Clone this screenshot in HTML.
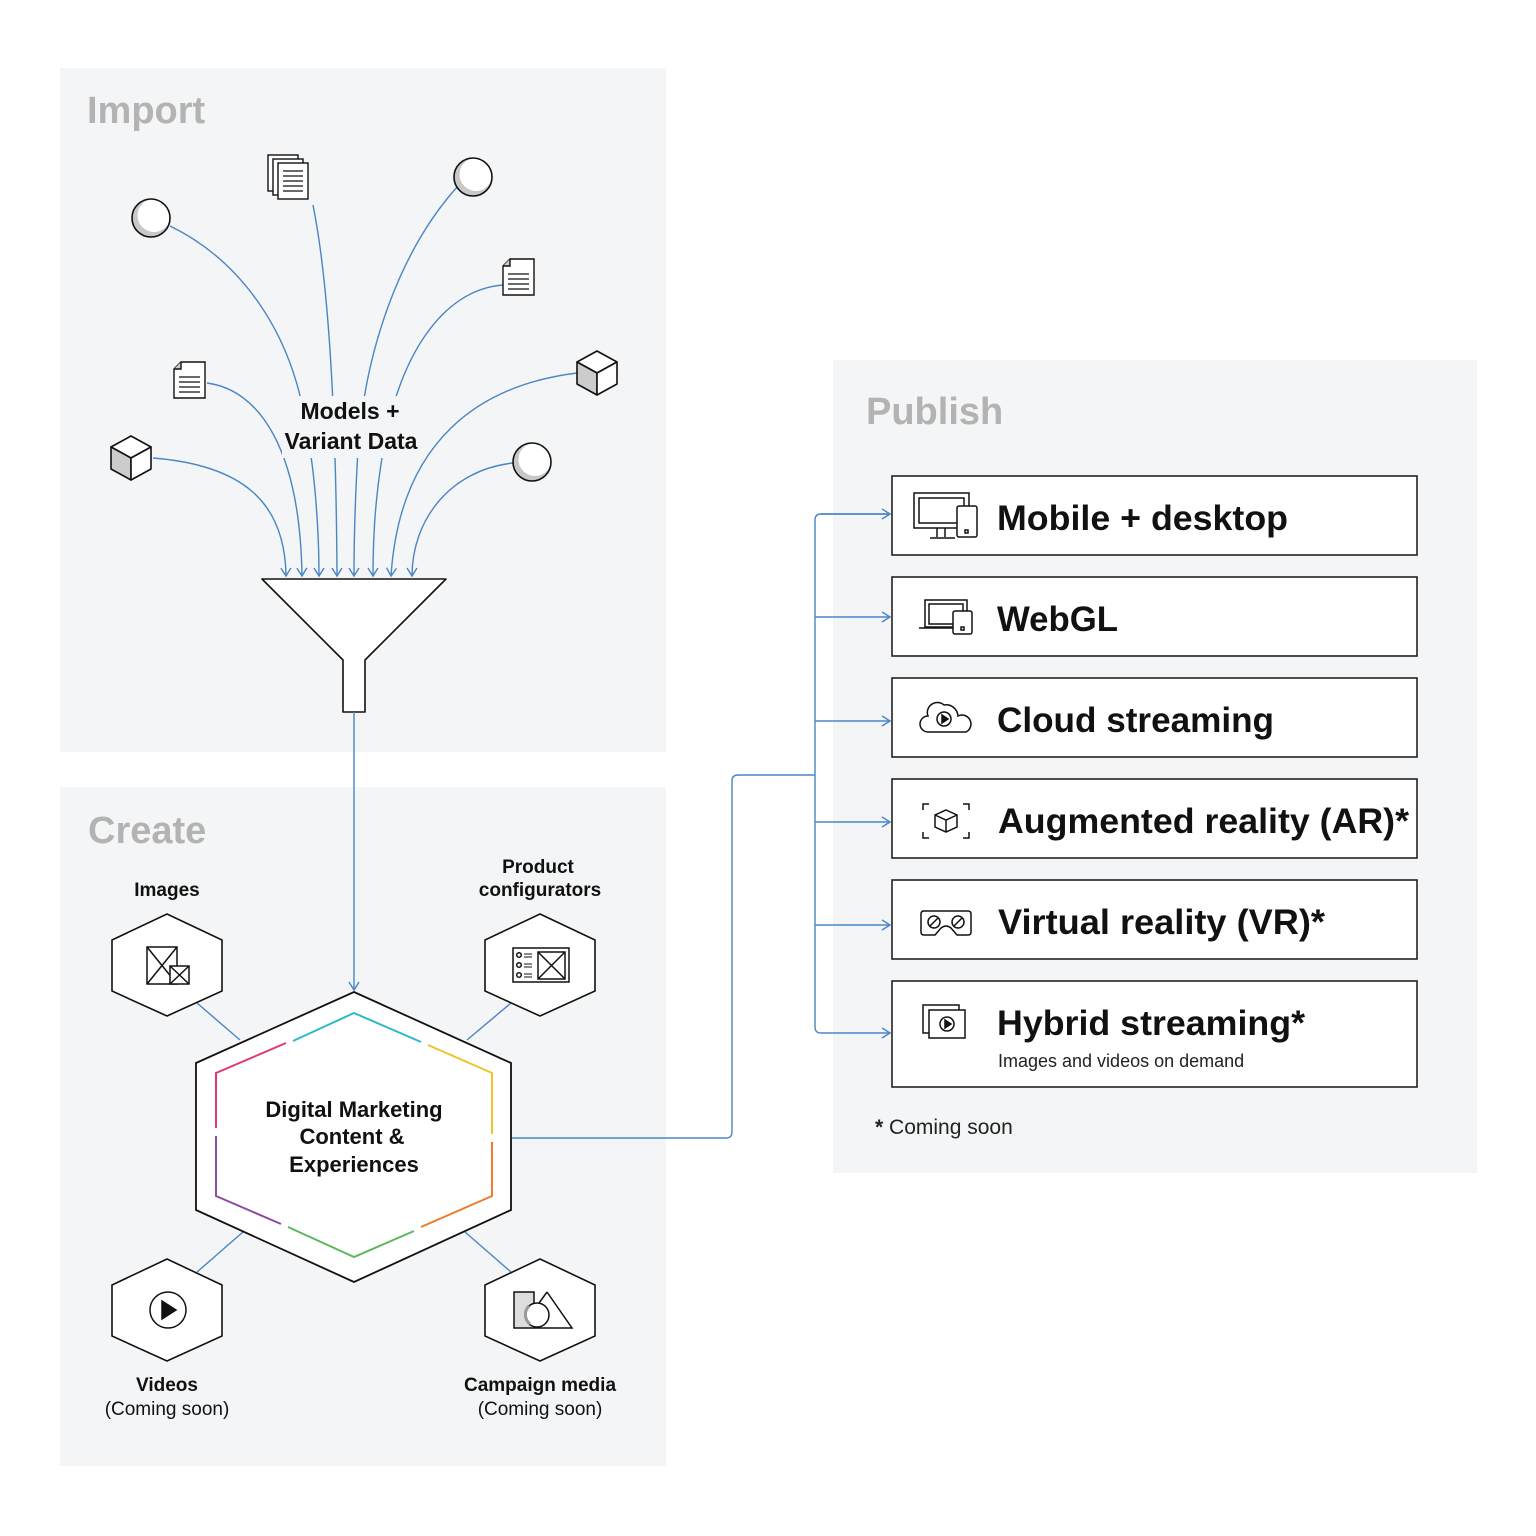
<!DOCTYPE html>
<html><head><meta charset="utf-8"><style>
html,body{margin:0;padding:0;background:#fff;}
svg{display:block;}
text{font-family:"Liberation Sans",sans-serif;}
</style></head><body>
<svg width="1536" height="1536" viewBox="0 0 1536 1536" xmlns="http://www.w3.org/2000/svg">
<defs>
<marker id="ar" markerWidth="12" markerHeight="12" refX="9" refY="6" orient="auto" markerUnits="userSpaceOnUse">
<path d="M1,1 L9,6 L1,11" fill="none" stroke="#4a86c5" stroke-width="1.4"/>
</marker>
<g id="sph"><circle r="19" fill="#c8c8c8"/><circle cx="3" cy="-2.5" r="16.5" fill="#fff"/><circle r="19" fill="none" stroke="#111" stroke-width="1.6"/></g>
</defs>
<rect width="1536" height="1536" fill="#fff"/>
<!-- panels -->
<rect x="60" y="68" width="606" height="684" fill="#f4f5f6"/>
<rect x="60" y="787" width="606" height="679" fill="#f4f5f6"/>
<rect x="833" y="360" width="644" height="813" fill="#f4f5f6"/>
<text x="87" y="123" font-size="38" font-weight="bold" fill="#b3b3b3">Import</text>
<text x="88" y="843" font-size="38" font-weight="bold" fill="#b3b3b3">Create</text>
<text x="866" y="424" font-size="38" font-weight="bold" fill="#b3b3b3">Publish</text>

<!-- import curves -->
<g fill="none" stroke="#4a86c5" stroke-width="1.4" marker-end="url(#ar)">
<path d="M153,458 C240,465 285,500 286,576"/>
<path d="M207,383 C260,390 300,450 302,576"/>
<path d="M170,226 C240,260 290,330 305,420 C315,470 319,530 319,576"/>
<path d="M313,205 C328,280 336,400 337,576"/>
<path d="M458,186 C400,250 365,350 358,450 C355,500 354,540 354,576"/>
<path d="M503,285 C440,290 400,360 385,440 C376,490 373,530 373,576"/>
<path d="M577,373 C480,385 400,440 391,576"/>
<path d="M513,463 C450,470 412,520 412,576"/>
</g>
<rect x="282" y="396" width="144" height="62" fill="#f4f5f6"/>
<text x="350" y="419" font-size="23" font-weight="bold" text-anchor="middle" fill="#111">Models +</text>
<text x="351" y="449" font-size="23" font-weight="bold" text-anchor="middle" fill="#111">Variant Data</text>

<!-- spheres -->
<use href="#sph" x="151" y="218"/>
<use href="#sph" x="473" y="177"/>
<use href="#sph" x="532" y="462"/>
<!-- cubes -->
<g stroke="#111" stroke-width="1.6" stroke-linejoin="round">
<g transform="translate(131,458)"><path d="M-20,-11 L0,-22 L20,-11 L0,0Z" fill="#fff"/><path d="M-20,-11 L0,0 L0,22 L-20,11Z" fill="#ccc"/><path d="M20,-11 L0,0 L0,22 L20,11Z" fill="#fff"/></g>
<g transform="translate(597,373)"><path d="M-20,-11 L0,-22 L20,-11 L0,0Z" fill="#fff"/><path d="M-20,-11 L0,0 L0,22 L-20,11Z" fill="#ccc"/><path d="M20,-11 L0,0 L0,22 L20,11Z" fill="#fff"/></g>
</g>
<!-- docs -->
<g stroke="#111" stroke-width="1.4" fill="#fff">
<g transform="translate(174,362)"><path d="M0,7 L7,0 L31,0 L31,36 L0,36Z"/><path d="M0,7 L7,7 L7,0" fill="#ccc"/><path d="M5,15 H26 M5,20 H26 M5,25 H26 M5,30 H26" stroke-width="1.2"/></g>
<g transform="translate(503,259)"><path d="M0,7 L7,0 L31,0 L31,36 L0,36Z"/><path d="M0,7 L7,7 L7,0" fill="#ccc"/><path d="M5,15 H26 M5,20 H26 M5,25 H26 M5,30 H26" stroke-width="1.2"/></g>
<g transform="translate(268,155)"><rect x="0" y="0" width="30" height="36"/><rect x="5" y="4" width="30" height="36"/><rect x="10" y="8" width="30" height="36"/><path d="M15,16 H35 M15,21 H35 M15,26 H35 M15,31 H35 M15,36 H35" stroke-width="1.2"/></g>
</g>

<!-- funnel -->
<path d="M262,579 L446,579 L365,660 L365,712 L343,712 L343,660 Z" fill="#fff" stroke="#111" stroke-width="1.6" stroke-linejoin="round"/>

<!-- funnel to hex -->
<path d="M354,712 L354,990" stroke="#4a86c5" stroke-width="1.4" fill="none" marker-end="url(#ar)"/>

<!-- spokes -->
<g stroke="#4a86c5" stroke-width="1.4">
<line x1="197" y1="1003" x2="240" y2="1040"/>
<line x1="511" y1="1003" x2="467" y2="1040"/>
<line x1="197" y1="1272" x2="243" y2="1232"/>
<line x1="511" y1="1272" x2="465" y2="1232"/>
</g>
<!-- small hexes -->
<g fill="#fff" stroke="#111" stroke-width="1.6">
<polygon points="167,914 222,940 222,991 167,1016 112,991 112,940"/>
<polygon points="540,914 595,940 595,991 540,1016 485,991 485,940"/>
<polygon points="167,1259 222,1285 222,1336 167,1361 112,1336 112,1285"/>
<polygon points="540,1259 595,1285 595,1336 540,1361 485,1336 485,1285"/>
</g>
<!-- small hex icons -->
<g fill="none" stroke="#111" stroke-width="1.5">
<rect x="147" y="947" width="30" height="37"/><path d="M147,947 L177,984 M177,947 L147,984"/>
<rect x="170" y="966" width="19" height="18" fill="#fff"/><path d="M170,966 L189,984 M189,966 L170,984"/>
<rect x="513" y="948" width="56" height="34"/>
<circle cx="519" cy="955" r="2.3"/><circle cx="519" cy="965" r="2.3"/><circle cx="519" cy="975" r="2.3"/>
<path d="M524,954 H532 M524,957 H532 M524,964 H532 M524,967 H532 M524,974 H532 M524,977 H532" stroke-width="1.1"/>
<rect x="538" y="952" width="27" height="27"/><path d="M538,952 L565,979 M565,952 L538,979"/>
<circle cx="168" cy="1310" r="18"/>
<path d="M162,1301 L176,1310 L162,1319Z" fill="#111"/>
<rect x="514" y="1292" width="20" height="36" fill="#ddd"/>
<path d="M547,1292 L572,1328 L534,1328" fill="#fff"/><path d="M547,1292 L534,1310"/>
<circle cx="537" cy="1315" r="12" fill="#fff"/>
<path d="M530,1324 A12,12 0 0 1 529,1306" stroke="#999" stroke-width="3"/>
</g>
<g font-size="19" font-weight="bold" fill="#111" text-anchor="middle">
<text x="167" y="896">Images</text>
<text x="538" y="873">Product</text>
<text x="540" y="896">configurators</text>
<text x="167" y="1391">Videos</text>
<text x="540" y="1391">Campaign media</text>
</g>
<g font-size="19" fill="#111" text-anchor="middle">
<text x="167" y="1415">(Coming soon)</text>
<text x="540" y="1415">(Coming soon)</text>
</g>

<!-- main hex -->
<polygon points="354,992 511,1063 511,1210 354,1282 196,1210 196,1063" fill="#fff" stroke="#111" stroke-width="1.8"/>
<g fill="none" stroke-width="2">
<path d="M293,1041 L354,1013 L421,1042" stroke="#2fb8c8"/>
<path d="M428,1045 L492,1073 L492,1134" stroke="#f2c22a"/>
<path d="M492,1142 L492,1196 L421,1227" stroke="#f07a2a"/>
<path d="M414,1231 L354,1257 L288,1227" stroke="#5cb85c"/>
<path d="M281,1224 L216,1196 L216,1136" stroke="#8e4aa0"/>
<path d="M216,1128 L216,1073 L286,1043" stroke="#e03a6a"/>
</g>
<g font-size="22" font-weight="bold" fill="#111" text-anchor="middle">
<text x="354" y="1117">Digital Marketing</text>
<text x="352" y="1144">Content &amp;</text>
<text x="354" y="1172">Experiences</text>
</g>

<!-- publish connectors -->
<g fill="none" stroke="#4a86c5" stroke-width="1.4">
<path d="M512,1138 L726,1138 Q732,1138 732,1132 L732,781 Q732,775 738,775 L815,775"/>
<path d="M890,514 L821,514 Q815,514 815,520 L815,1027 Q815,1033 821,1033 L890,1033" marker-end="url(#ar)"/>
<path d="M821,514 L890,514" marker-end="url(#ar)"/>
<path d="M815,617 L890,617" marker-end="url(#ar)"/>
<path d="M815,721 L890,721" marker-end="url(#ar)"/>
<path d="M815,822 L890,822" marker-end="url(#ar)"/>
<path d="M815,925 L890,925" marker-end="url(#ar)"/>
</g>

<!-- publish boxes -->
<g fill="#fff" stroke="#222" stroke-width="1.6">
<rect x="892" y="476" width="525" height="79"/>
<rect x="892" y="577" width="525" height="79"/>
<rect x="892" y="678" width="525" height="79"/>
<rect x="892" y="779" width="525" height="79"/>
<rect x="892" y="880" width="525" height="79"/>
<rect x="892" y="981" width="525" height="106"/>
</g>
<g font-size="35" font-weight="bold" fill="#111">
<text x="997" y="530" textLength="291" lengthAdjust="spacingAndGlyphs">Mobile + desktop</text>
<text x="997" y="631" textLength="121" lengthAdjust="spacingAndGlyphs">WebGL</text>
<text x="997" y="732" textLength="277" lengthAdjust="spacingAndGlyphs">Cloud streaming</text>
<text x="998" y="833" textLength="411" lengthAdjust="spacingAndGlyphs">Augmented reality (AR)*</text>
<text x="998" y="934" textLength="327" lengthAdjust="spacingAndGlyphs">Virtual reality (VR)*</text>
<text x="997" y="1035" textLength="308" lengthAdjust="spacingAndGlyphs">Hybrid streaming*</text>
</g>
<text x="998" y="1067" font-size="18" fill="#222">Images and videos on demand</text>
<text x="875" y="1134" font-size="21" fill="#222"><tspan font-weight="bold">*</tspan> Coming soon</text>

<!-- publish icons -->
<g fill="none" stroke="#111" stroke-width="1.5">
<rect x="914" y="493" width="55" height="35" fill="#fff"/><rect x="919" y="498" width="45" height="25"/>
<path d="M937,528 V537 M945,528 V537 M930,538 H955"/>
<rect x="957" y="506" width="20" height="31" rx="2" fill="#fff"/><rect x="965" y="530" width="3" height="3"/>
<rect x="925" y="600" width="42" height="27" fill="#fff"/><rect x="929" y="604" width="34" height="20"/>
<path d="M919,628 H961"/>
<rect x="953" y="611" width="19" height="23" rx="2" fill="#fff"/><rect x="961" y="627" width="3" height="3"/>
<path d="M928,732 A8,8 0 0 1 928,716 A10,10 0 0 1 944,705 A12,12 0 0 1 958,716 A8,8 0 0 1 966,732 Z"/>
<circle cx="944" cy="719" r="7"/><path d="M942,715 L948,719 L942,723Z" fill="#111"/>
<path d="M923,810 V804 H929 M963,804 H969 V810 M923,832 V838 H929 M963,838 H969 V832"/>
<path d="M946,810 L957,815 L957,827 L946,832 L935,827 L935,815Z M935,815 L946,820 L957,815 M946,820 V832"/>
<path d="M922,911 H968 Q971,911 971,914 V932 Q971,935 968,935 H957 L951,928 Q946,924 941,928 L935,935 H924 Q921,935 921,932 V914 Q921,911 924,911Z"/>
<circle cx="934" cy="922" r="6"/><path d="M930,926 L938,918"/>
<circle cx="958" cy="922" r="6"/><path d="M954,926 L962,918"/>
<rect x="923" y="1005" width="36" height="28"/><rect x="929" y="1010" width="36" height="28" fill="#fff"/>
<circle cx="947" cy="1024" r="7"/><path d="M945,1020 L951,1024 L945,1028Z" fill="#111"/>
</g>
</svg>
</body></html>
